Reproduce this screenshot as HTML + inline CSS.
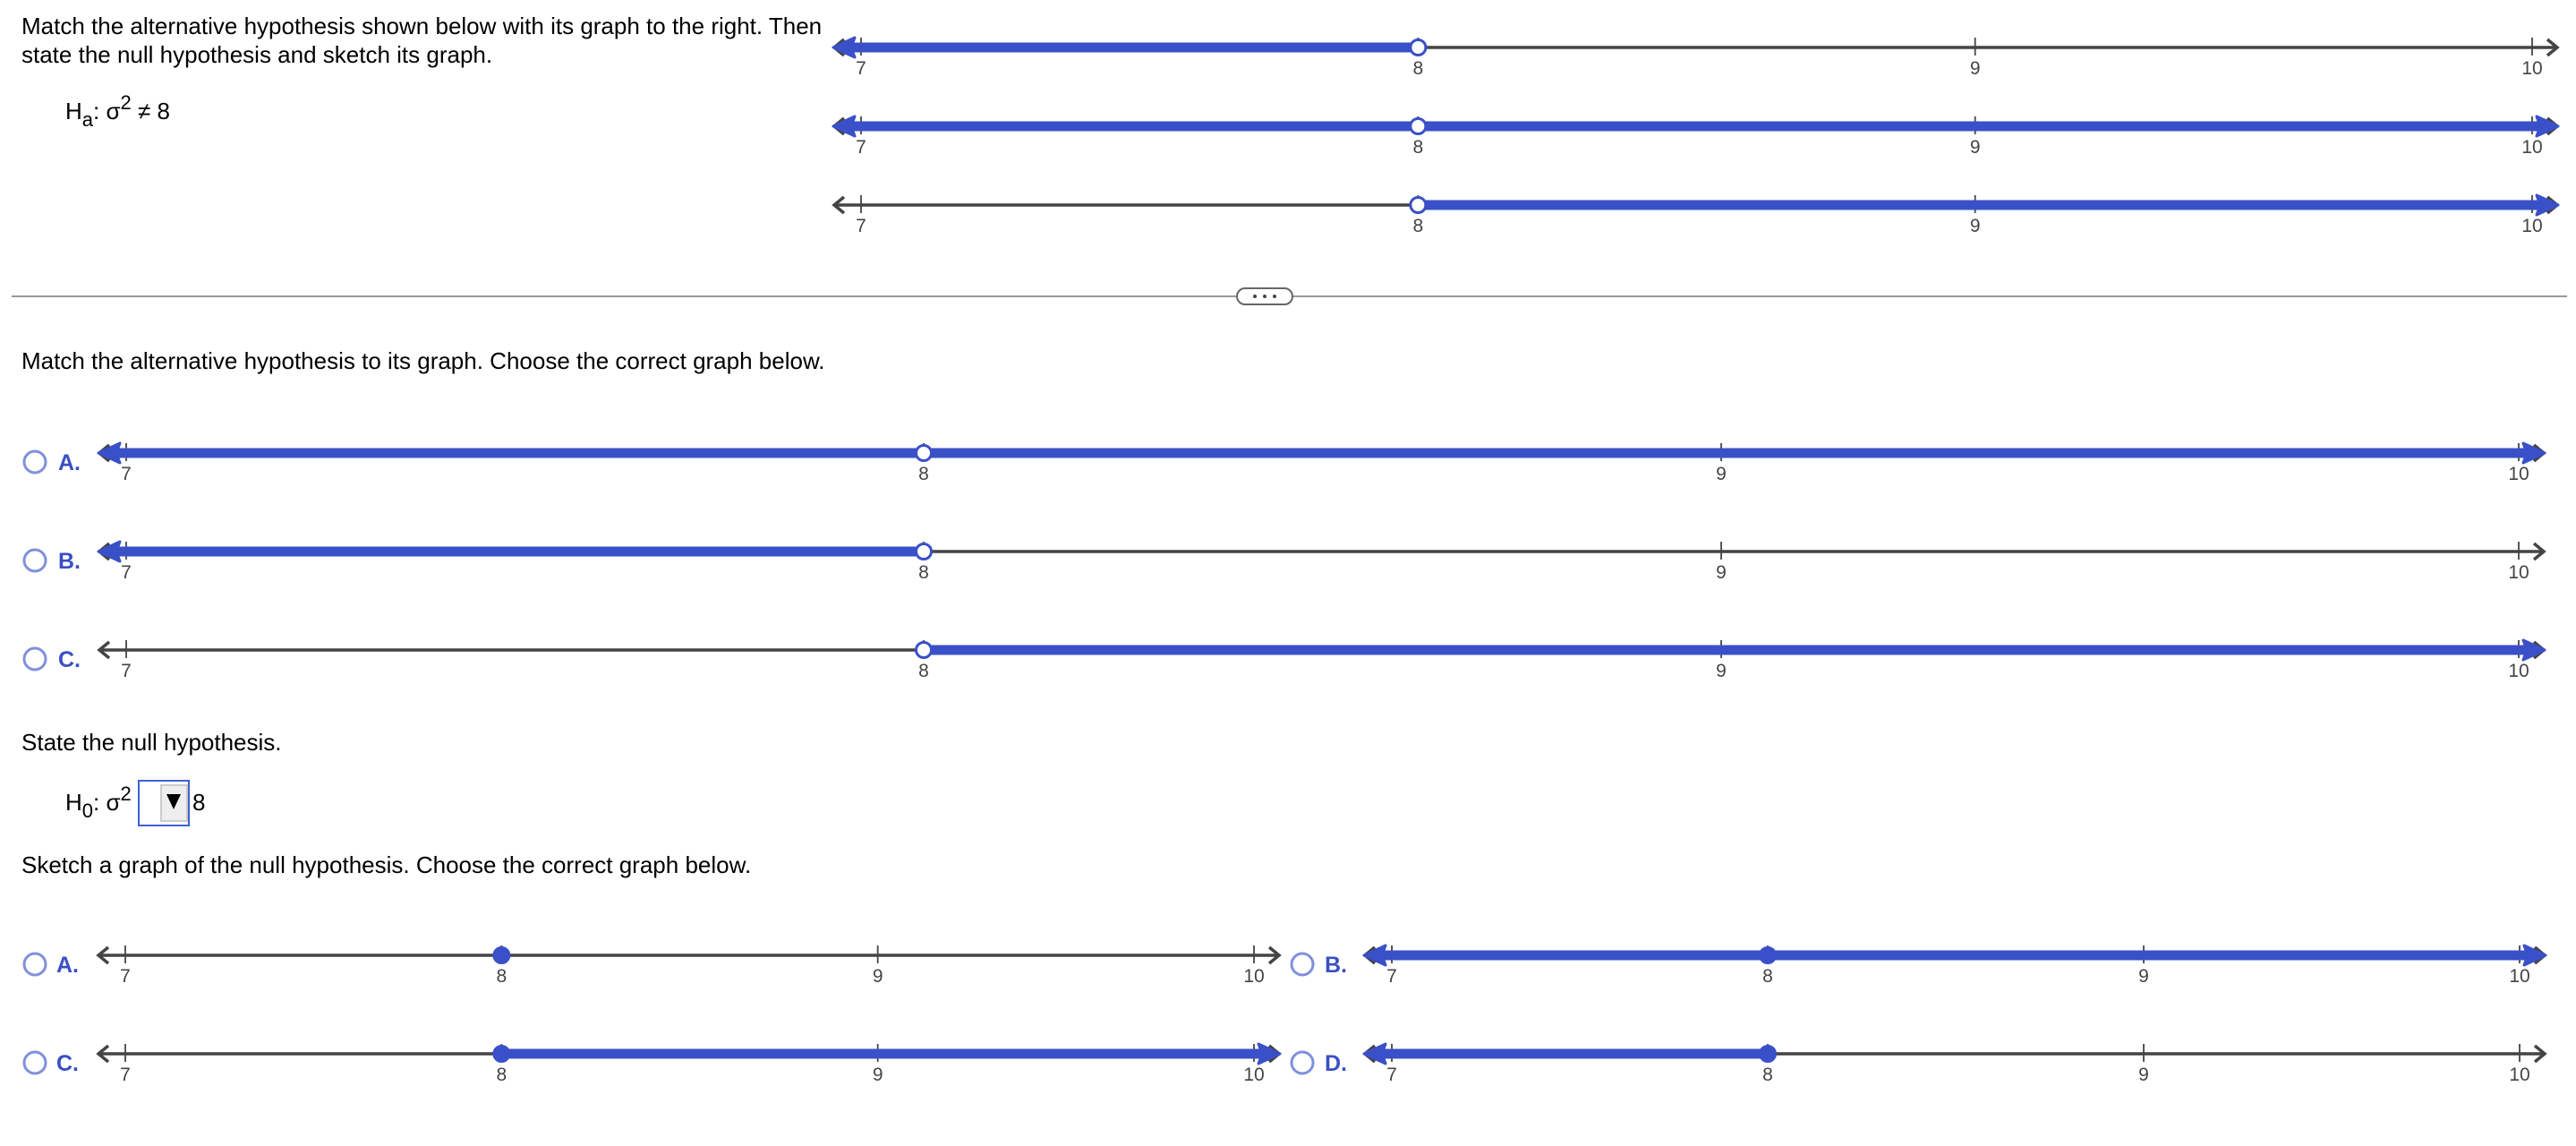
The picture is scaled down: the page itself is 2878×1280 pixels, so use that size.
<!DOCTYPE html>
<html><head><meta charset="utf-8"><style>
html,body{margin:0;padding:0;background:#fff;width:2878px;height:1280px;overflow:hidden}
svg{display:block;font-family:"Liberation Sans",sans-serif}
</style></head><body>
<svg id="s" width="2878" height="1280" viewBox="0 0 2878 1280" xmlns="http://www.w3.org/2000/svg">
<text x="24" y="38" font-size="26" fill="#000">Match the alternative hypothesis shown below with its graph to the right. Then</text>
<text x="24" y="70" font-size="26" fill="#000">state the null hypothesis and sketch its graph.</text>
<text x="73" y="133" font-size="26" fill="#000">H<tspan font-size="22" dy="8">a</tspan><tspan dy="-8">: σ</tspan><tspan font-size="22" dy="-11">2</tspan><tspan dy="11"> ≠ 8</tspan></text>
<line x1="13" y1="331" x2="2868" y2="331" stroke="#999" stroke-width="2"/>
<g>
<rect x="1382" y="322" width="62" height="18" rx="9" fill="#fff" stroke="#666" stroke-width="2"/>
<circle cx="1402" cy="331" r="2" fill="#444"/><circle cx="1413" cy="331" r="2" fill="#444"/><circle cx="1424" cy="331" r="2" fill="#444"/>
</g>
<text x="24" y="412" font-size="26" fill="#000">Match the alternative hypothesis to its graph. Choose the correct graph below.</text>
<text x="24" y="838" font-size="26" fill="#000">State the null hypothesis.</text>
<text x="73" y="905" font-size="26" fill="#000">H<tspan font-size="22" dy="8">0</tspan><tspan dy="-8">: σ</tspan><tspan font-size="22" dy="-11">2</tspan></text>
<g>
<rect x="155" y="872" width="56" height="50" fill="#fff" stroke="#3d62d6" stroke-width="2"/>
<rect x="180" y="877" width="29" height="40" fill="#eee" stroke="#ccc" stroke-width="2"/>
<path d="M186 887 L202 887 L194 904 Z" fill="#000"/>
</g>
<text x="215" y="905" font-size="26" fill="#000">8</text>
<text x="24" y="975" font-size="26" fill="#000">Sketch a graph of the null hypothesis. Choose the correct graph below.</text>
</svg>
<script>
// tick values shared by all number lines
const tickValues = [7, 8, 9, 10];
const tickLabels = ["7", "8", "9", "10"];
// hypothesis boundary value
const boundary = 8;
// shaded region: "left", "right", "both", "none"
const graphNames = ["top-graph-1","top-graph-2","top-graph-3","alt-choice-a","alt-choice-b","alt-choice-c","null-choice-a","null-choice-b","null-choice-c","null-choice-d"];
const graphShade = ["left","both","right","both","left","right","none","both","right","left"];
const graphClosed = [false,false,false,false,false,false,true,true,true,true];
const graphLetters = ["","","","A.","B.","C.","A.","B.","C.","D."];
// layout (pixel) config kept separate from data
const layout = [
 {x7:962,x10:2829,y:53,radio:null},
 {x7:962,x10:2829,y:141,radio:null},
 {x7:962,x10:2829,y:229,radio:null},
 {x7:141,x10:2814,y:506,radio:[39,65]},
 {x7:141,x10:2814,y:616,radio:[39,65]},
 {x7:141,x10:2814,y:726,radio:[39,65]},
 {x7:140,x10:1401,y:1067,radio:[39,63]},
 {x7:1555,x10:2815,y:1067,radio:[1455,1480]},
 {x7:140,x10:1401,y:1177,radio:[39,63]},
 {x7:1555,x10:2815,y:1177,radio:[1455,1480]}
];
const NS="http://www.w3.org/2000/svg";
const svg=document.getElementById('s');
const BLUE="#3a50c8", GREY="#444";
function mk(tag,attrs,parent){const e=document.createElementNS(NS,tag);for(const k in attrs)e.setAttribute(k,attrs[k]);parent.appendChild(e);return e;}
graphNames.forEach((name,i)=>{
  const L=layout[i];
  const lo=tickValues[0], hi=tickValues[tickValues.length-1];
  const sx=v=>L.x7+(v-lo)*(L.x10-L.x7)/(hi-lo);
  const g=mk('g',{},svg);
  
  
  const y=L.y, xl=sx(lo)-31, xr=sx(hi)+29;
  if(L.radio){
    const r=mk('circle',{cx:L.radio[0],cy:y+10,r:12,fill:'#fff',stroke:'#7f90dc','stroke-width':3},g);
    
    
    const t=mk('text',{x:L.radio[1],y:y+19,'font-size':25,'font-weight':'bold',fill:'#3a4fc4'},g);
    t.textContent=graphLetters[i];
    
    
  }
  mk('line',{x1:xl+3,y1:y,x2:xr-3,y2:y,stroke:GREY,'stroke-width':3.5},g);
  mk('path',{d:`M${xl+12} ${y-9} L${xl+1} ${y} L${xl+12} ${y+9}`,fill:'none',stroke:GREY,'stroke-width':3.5},g);
  mk('path',{d:`M${xr-12} ${y-9} L${xr-1} ${y} L${xr-12} ${y+9}`,fill:'none',stroke:GREY,'stroke-width':3.5},g);
  tickValues.forEach((v,k)=>{
    const x=sx(v);
    mk('line',{x1:x,y1:y-11,x2:x,y2:y+9,stroke:GREY,'stroke-width':1.8},g);
    const t=mk('text',{x:x,y:y+30,'font-size':21,fill:GREY,'text-anchor':'middle'},g);
    t.textContent=tickLabels[k];
    
    
  });
  const sh=graphShade[i], xb=sx(boundary);
  const leftOn=sh==='left'||sh==='both', rightOn=sh==='right'||sh==='both';
  if(leftOn){
    mk('rect',{x:xl+14,y:y-5.5,width:xb-xl-14,height:11,fill:BLUE},g);
    mk('path',{d:`M${xl} ${y} L${xl+24} ${y-11} L${xl+20} ${y} L${xl+24} ${y+11} Z`,fill:BLUE,stroke:BLUE,'stroke-width':3,'stroke-linejoin':'round'},g);
  }
  if(rightOn){
    mk('rect',{x:xb,y:y-5.5,width:xr-xb-14,height:11,fill:BLUE},g);
    mk('path',{d:`M${xr} ${y} L${xr-24} ${y-11} L${xr-20} ${y} L${xr-24} ${y+11} Z`,fill:BLUE,stroke:BLUE,'stroke-width':3,'stroke-linejoin':'round'},g);
  }
  const p=mk('circle',{cx:xb,cy:y,r:8.5,fill:graphClosed[i]?BLUE:'#fff',stroke:BLUE,'stroke-width':3},g);
  
  
});
</script>
</body></html>
